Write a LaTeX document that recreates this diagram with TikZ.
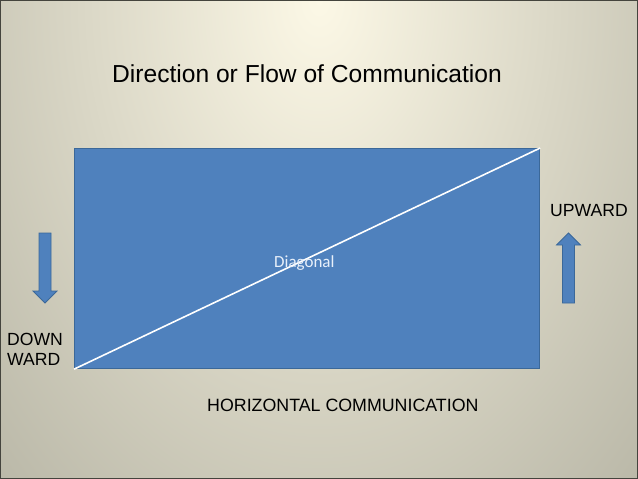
\documentclass[tikz,border=0pt]{standalone}
\usepackage{fontspec}
\setmainfont{Liberation Sans}
\newfontfamily\calfont{Carlito}
\definecolor{boxblue}{HTML}{4F81BD}
\definecolor{boxedge}{HTML}{3B6899}
\definecolor{cream}{HTML}{FCF8E6}
\definecolor{bggrey}{HTML}{989788}
\definecolor{diagtext}{RGB}{232,240,250}
\begin{document}
\begin{tikzpicture}[x=1pt,y=-1pt,
  lbl/.style={inner sep=0pt, anchor=base west, font=\fontsize{17.6}{20}\selectfont, text=black},
  arrowshape/.style={fill=boxblue, draw=boxedge, line width=0.8pt, line join=miter}]
\useasboundingbox (0,0) rectangle (638,479);
\begin{scope}
\clip (0,0) rectangle (638,479);
\fill[bggrey] (0,0) rectangle (638,479);
\shade[inner color=cream, outer color=bggrey] (319,0) ellipse [x radius=700, y radius=1020];
\end{scope}
\draw[color=black!55!bggrey, line width=1pt] (0.5,0.5) rectangle (637.5,478.5);
% title
\node[lbl, font=\fontsize{24.6}{28}\selectfont] (title) at (112,82) {Direction or Flow of Communication};
% main box
\node[fill=boxblue, draw=boxedge, line width=1.2pt, minimum width=465pt, minimum height=220pt, inner sep=0pt, anchor=north west] (box) at (74,148) {};
\draw[white, line width=1.6pt] (box.south west) -- (box.north east);
\node[inner sep=0pt, anchor=base west, text=diagtext, font=\calfont\fontsize{17}{20}\selectfont] (diag) at (274,267) {Diagonal};
% arrows
\draw[arrowshape] (39,233) -- (51,233) -- (51,291) -- (57,291) -- (45,303) -- (33,291) -- (39,291) -- cycle;
\draw[arrowshape] (562.5,303) -- (574.5,303) -- (574.5,245) -- (580.5,245) -- (568.5,233) -- (556.5,245) -- (562.5,245) -- cycle;
% labels
\node[lbl] (up) at (550,216) {UPWARD};
\node[lbl] (down) at (7,345) {DOWN};
\node[lbl] (ward) at (7,365) {WARD};
\node[lbl, font=\fontsize{17.8}{20}\selectfont] (horiz) at (207,411) {HORIZONTAL COMMUNICATION};
\end{tikzpicture}
\end{document}
